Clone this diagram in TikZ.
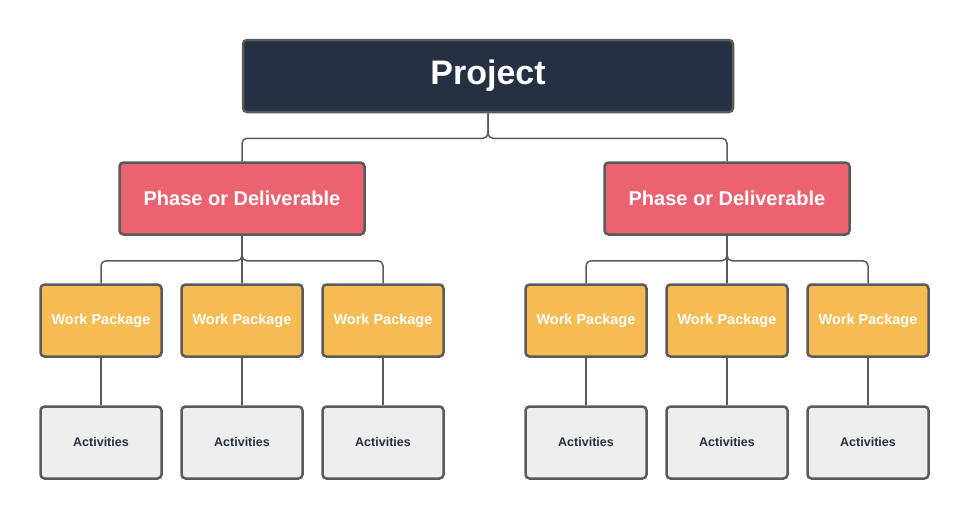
\documentclass[tikz,border=0pt]{standalone}
\usepackage{fontspec}
\setmainfont{Liberation Sans}
\begin{document}
\begin{tikzpicture}[x=1pt,y=-1pt,
  box/.style={draw=boxline,line width=2.5pt,rounded corners=4pt,inner sep=0pt,font=\bfseries},
  conn/.style={draw=boxline,line width=1.5pt,rounded corners=5pt}]
\definecolor{boxline}{HTML}{5A5A5A}
\definecolor{navy}{HTML}{253142}
\definecolor{phase}{HTML}{EB6370}
\definecolor{wp}{HTML}{F6BC54}
\definecolor{act}{HTML}{EEEEEE}
\definecolor{acttext}{HTML}{253142}
\useasboundingbox (0,0) rectangle (970,520);
\node[box,fill=navy,text=white,minimum width=490pt,minimum height=72pt,font=\bfseries\fontsize{34}{40}\selectfont] (proj) at (488,76) {Project};
\node[box,fill=phase,text=white,minimum width=245pt,minimum height=72pt,font=\bfseries\fontsize{20}{24}\selectfont] (p1) at (242,198.5) {Phase or Deliverable};
\node[box,fill=phase,text=white,minimum width=245pt,minimum height=72pt,font=\bfseries\fontsize{20}{24}\selectfont] (p2) at (727,198.5) {Phase or Deliverable};
\foreach \i/\x in {1/101,2/242,3/383,4/586,5/727,6/868}{
  \node[box,fill=wp,text=white,minimum width=121pt,minimum height=72pt,font=\bfseries\fontsize{14.5}{17}\selectfont] (w\i) at (\x,320.5) {Work Package};
  \node[box,fill=act,text=acttext,minimum width=121pt,minimum height=72pt,font=\bfseries\fontsize{12.5}{15}\selectfont] (a\i) at (\x,442.5) {Activities};
  \draw[conn] (w\i.south) -- (a\i.north);
}
\draw[conn] (proj.south) -- ++(0,25) -| (p1.north);
\draw[conn] (proj.south) -- ++(0,25) -| (p2.north);
\draw[conn] (p1.south) -- ++(0,25) -| (w1.north);
\draw[conn] (p1.south) -- (w2.north);
\draw[conn] (p1.south) -- ++(0,25) -| (w3.north);
\draw[conn] (p2.south) -- ++(0,25) -| (w4.north);
\draw[conn] (p2.south) -- (w5.north);
\draw[conn] (p2.south) -- ++(0,25) -| (w6.north);
\end{tikzpicture}
\end{document}
